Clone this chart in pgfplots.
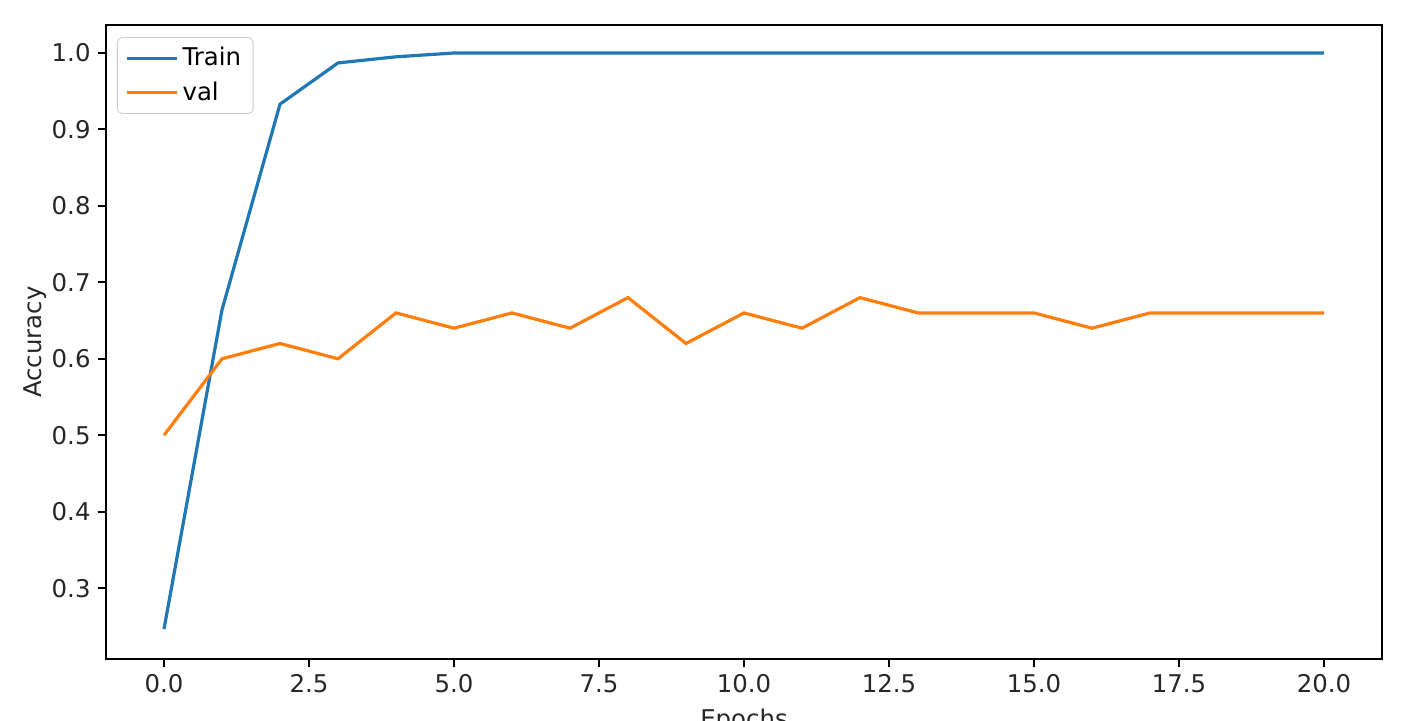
\documentclass[border=0pt]{standalone}
\usepackage{fontspec}
\setmainfont{DejaVu Sans}
\usepackage{pgfplots}
\pgfplotsset{compat=1.18}
\definecolor{tabblue}{HTML}{1F77B4}
\definecolor{taborange}{HTML}{FF7F0E}
\definecolor{axgray}{HTML}{262626}
\begin{document}
\begin{tikzpicture}[x=1pt,y=1pt]
\begin{axis}[
  at={(0,0)}, anchor=south west,
  scale only axis, width=638pt, height=317pt,
  xmin=-1.0, xmax=21.0, ymin=0.2073, ymax=1.0366,
  axis line style={line width=1pt, black},
  tick style={line width=1pt, black},
  tick align=outside, major tick length=4.2pt,
  xtick={0,2.5,...,20}, ytick={0.3,0.4,...,1.0},
  /pgf/number format/assume math mode=true,
  xticklabel style={/pgf/number format/.cd, fixed, fixed zerofill, precision=1},
  yticklabel style={/pgf/number format/.cd, fixed, fixed zerofill, precision=1},
  tick label style={font=\fontsize{12.2}{15}\selectfont, text=axgray},
  xtick pos=bottom, ytick pos=left,
  xlabel={Epochs}, ylabel={Accuracy},
  label style={font=\fontsize{12.2}{15}\selectfont, text=axgray},
  xlabel style={yshift=-1pt},
  ylabel style={yshift=-4.5pt},
  legend style={at={(0.0086,0.981)}, anchor=north west, draw=black!20, rounded corners=2.5pt, fill=white, fill opacity=0.8, text opacity=1, font=\fontsize{12.2}{15}\selectfont, inner xsep=4pt, inner ysep=3pt, row sep=2.5pt},
  legend cell align=left,
  legend image code/.code={\draw[#1] (0pt,0pt) -- (25pt,0pt);},
]
\addplot[tabblue, line width=1.6pt] coordinates {
(0,0.2465) (1,0.664) (2,0.933) (3,0.987) (4,0.995) (5,1.0) (6,1.0) (7,1.0) (8,1.0) (9,1.0) (10,1.0) (11,1.0) (12,1.0) (13,1.0) (14,1.0) (15,1.0) (16,1.0) (17,1.0) (18,1.0) (19,1.0) (20,1.0)};
\addlegendentry{Train}
\addplot[taborange, line width=1.6pt] coordinates {
(0,0.50) (1,0.60) (2,0.62) (3,0.60) (4,0.66) (5,0.64) (6,0.66) (7,0.64) (8,0.68) (9,0.62) (10,0.66) (11,0.64) (12,0.68) (13,0.66) (14,0.66) (15,0.66) (16,0.64) (17,0.66) (18,0.66) (19,0.66) (20,0.66)};
\addlegendentry{val}
\end{axis}
\pgfresetboundingbox
\path (-53,-30.5) rectangle (651,329.5);
\end{tikzpicture}
\end{document}
